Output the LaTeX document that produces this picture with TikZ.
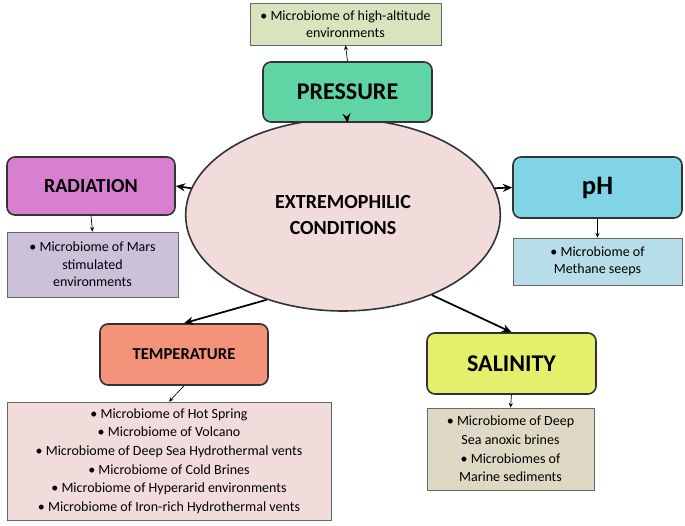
\documentclass[tikz,border=0pt]{standalone}
\usepackage{fontspec}
\setmainfont{Carlito}
\usetikzlibrary{shapes.geometric,arrows.meta}
\definecolor{cpink}{HTML}{F2DCDB}
\definecolor{cpres}{HTML}{5FD5A5}
\definecolor{cpressub}{HTML}{D7E4BD}
\definecolor{crad}{HTML}{D97FCF}
\definecolor{cradsub}{HTML}{CCC1DA}
\definecolor{cph}{HTML}{80D4E6}
\definecolor{cphsub}{HTML}{B7DEE8}
\definecolor{ctemp}{HTML}{F4927A}
\definecolor{csal}{HTML}{E4F06B}
\definecolor{csalsub}{HTML}{DDD9C4}
\tikzset{
 mainbox/.style={draw=black!80,line width=1.2pt,rounded corners=6pt,font=\bfseries,inner sep=0pt},
 subbox/.style={draw=black!60,line width=0.5pt,align=center,inner sep=0pt,font=\fontsize{10.5}{13}\selectfont},
 bigarrow/.style={-{Stealth[length=7pt,width=6pt]},line width=1.3pt},
 smallarrow/.style={-{Stealth[length=3.5pt,width=3pt]},line width=0.5pt}
}
\begin{document}
\begin{tikzpicture}[x=0.75pt,y=-0.75pt]
\useasboundingbox (0,0) rectangle (685,525);
\node[ellipse,draw=black!80,line width=1.2pt,fill=cpink,minimum width=236,minimum height=144,align=center,font=\bfseries\fontsize{15}{20}\selectfont] (e) at (343,215) {EXTREMOPHILIC\\CONDITIONS};
\node[mainbox,fill=cpres,minimum width=169*0.75pt,minimum height=60*0.75pt,font=\bfseries\fontsize{18}{20}\selectfont] (p) at (347.5,92) {PRESSURE};
\node[subbox,fill=cpressub,minimum width=191*0.75pt,minimum height=42*0.75pt] (ps) at (345.5,24) {• Microbiome of high-altitude\\environments};
\node[mainbox,fill=crad,minimum width=168*0.75pt,minimum height=58*0.75pt,font=\bfseries\fontsize{15}{18}\selectfont] (r) at (91,186) {RADIATION};
\node[subbox,fill=cradsub,minimum width=171*0.75pt,minimum height=65*0.75pt] (rs) at (92.5,264.5) {• Microbiome of Mars\\stimulated\\environments};
\node[mainbox,fill=cph,minimum width=169*0.75pt,minimum height=61*0.75pt,font=\bfseries\fontsize{20}{22}\selectfont] (h) at (597.5,187.5) {pH};
\node[subbox,fill=cphsub,minimum width=169*0.75pt,minimum height=47*0.75pt] (hs) at (597.5,261.5) {• Microbiome of\\Methane seeps};
\node[mainbox,fill=ctemp,minimum width=168*0.75pt,minimum height=61*0.75pt,font=\bfseries\fontsize{12.5}{15}\selectfont] (t) at (184,354.5) {TEMPERATURE};
\node[subbox,fill=cpink,minimum width=324*0.75pt,minimum height=118*0.75pt,font=\fontsize{10.5}{14}\selectfont] (ts) at (169,461) {• Microbiome of Hot Spring\\• Microbiome of Volcano\\• Microbiome of Deep Sea Hydrothermal vents\\• Microbiome of Cold Brines\\• Microbiome of Hyperarid environments\\• Microbiome of Iron-rich Hydrothermal vents};
\node[mainbox,fill=csal,minimum width=169*0.75pt,minimum height=61*0.75pt,font=\bfseries\fontsize{18}{20}\selectfont] (s) at (511.5,363.5) {SALINITY};
\node[subbox,fill=csalsub,minimum width=167*0.75pt,minimum height=82*0.75pt,font=\fontsize{10.5}{14}\selectfont] (ss) at (510.5,449) {• Microbiome of Deep\\Sea anoxic brines\\• Microbiomes of\\Marine sediments};
\draw[bigarrow] (e.north) ++(4,0) -- (p.south);
\draw[bigarrow] (e.170) -- (r.east);
\draw[bigarrow] (e.10) -- (h.west);
\draw[bigarrow] (e.228) -- (t.north);
\draw[bigarrow] (e.318) -- (s.north);
\draw[smallarrow] (p.north) -- (ps.south);
\draw[smallarrow] (r.south) -- (rs.north);
\draw[smallarrow] (h.south) -- (hs.north);
\draw[smallarrow] (t.south) -- (ts.north);
\draw[smallarrow] (s.south) -- (ss.north);
\end{tikzpicture}
\end{document}
